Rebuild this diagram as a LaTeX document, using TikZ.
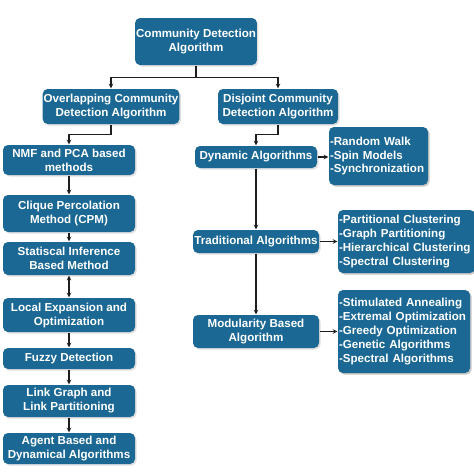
\documentclass[tikz,border=0pt]{standalone}
\usepackage{fontspec}
\setmainfont{Liberation Sans}
\usetikzlibrary{shadows}
\definecolor{boxblue}{RGB}{27,104,148}
\definecolor{linegray}{RGB}{30,30,30}
\tikzset{
  blockbox/.style={align=center,fill=boxblue,text=white,rounded corners=5pt,
    font=\fontsize{11.6}{14}\selectfont\bfseries,inner sep=1pt,
    drop shadow={opacity=0.25,shadow xshift=1.5pt,shadow yshift=-1.5pt}},
  listbox/.style={blockbox,align=left,font=\fontsize{11.6}{13.9}\selectfont\bfseries}
}
\begin{document}
\begin{tikzpicture}[x=1pt,y=-1pt,every node/.style={blockbox},
  draw=linegray,line width=1.1pt,>=stealth]
\useasboundingbox (0,0) rectangle (474,474);

\node (root) [minimum width=120pt,minimum height=47pt] at (196,41.5) {Community Detection\\Algorithm};
\node (overlap) [minimum width=132pt,minimum height=35pt] at (111,106.5) {Overlapping Community\\Detection Algorithm};
\node (disjoint) [minimum width=120pt,minimum height=35pt] at (278,106.5) {Disjoint Community\\Detection Algorithm};

% left column
\node (nmf) [minimum width=132pt,minimum height=30pt] at (69,160) {NMF and PCA based\\methods};
\node (cpm) [minimum width=132pt,minimum height=37pt] at (69,213.5) {Clique Percolation\\Method (CPM)};
\node (stat) [minimum width=132pt,minimum height=33pt] at (69,258.5) {Statiscal Inference\\Based Method};
\node (local) [minimum width=132pt,minimum height=34pt] at (69,315) {Local Expansion and\\Optimization};
\node (fuzzy) [minimum width=132pt,minimum height=21pt] at (69,358.5) {Fuzzy Detection};
\node (linkg) [minimum width=132pt,minimum height=32pt] at (69,401) {Link Graph and\\Link Partitioning};
\node (agent) [minimum width=132pt,minimum height=31pt] at (69,448.5) {Agent Based and\\Dynamical Algorithms};

% right column
\node (dynamic) [minimum width=122pt,minimum height=22pt] at (256,157) {Dynamic Algorithms};
\node (trad) [minimum width=126pt,minimum height=23pt] at (256,241.5) {Traditional Algorithms};
\node (modul) [minimum width=126pt,minimum height=33pt] at (256,331.5) {Modularity Based\\Algorithm};

\node (dynlist) [listbox,text width=97pt,minimum height=58pt] at (378.5,156)
  {-Random Walk\\-Spin Models\\-Synchronization};
\node (tradlist) [listbox,text width=135pt,minimum height=63pt] at (406.5,241.5)
  {-Partitional Clustering\\-Graph Partitioning\\-Hierarchical Clustering\\-Spectral Clustering};
\node (modlist) [listbox,text width=130pt,minimum height=83pt] at (404,331.5)
  {-Stimulated Annealing\\-Extremal Optimization\\-Greedy Optimization\\-Genetic Algorithms\\-Spectral Algorithms};

\draw [->] (root.south) -- ++(0,12) -| (overlap.north);
\draw [->] (root.south) -- ++(0,12) -| (disjoint.north);
\draw [->] (overlap.south) -- ++(0,10) -| (nmf.north);
\draw [->] (disjoint.south) -- ++(0,10) -| (dynamic.north);

\foreach \a/\b in {nmf/cpm,cpm/stat,local/fuzzy,fuzzy/linkg,linkg/agent,dynamic/trad,trad/modul}
  \draw [->] (\a) -- (\b);
\draw [<->] (stat) -- (local);

\draw [->] (dynamic.east) -- (dynamic.east -| dynlist.west);
\draw [->] (trad.east) -- (trad.east -| tradlist.west);
\draw [->] (modul.east) -- (modul.east -| modlist.west);
\end{tikzpicture}
\end{document}
